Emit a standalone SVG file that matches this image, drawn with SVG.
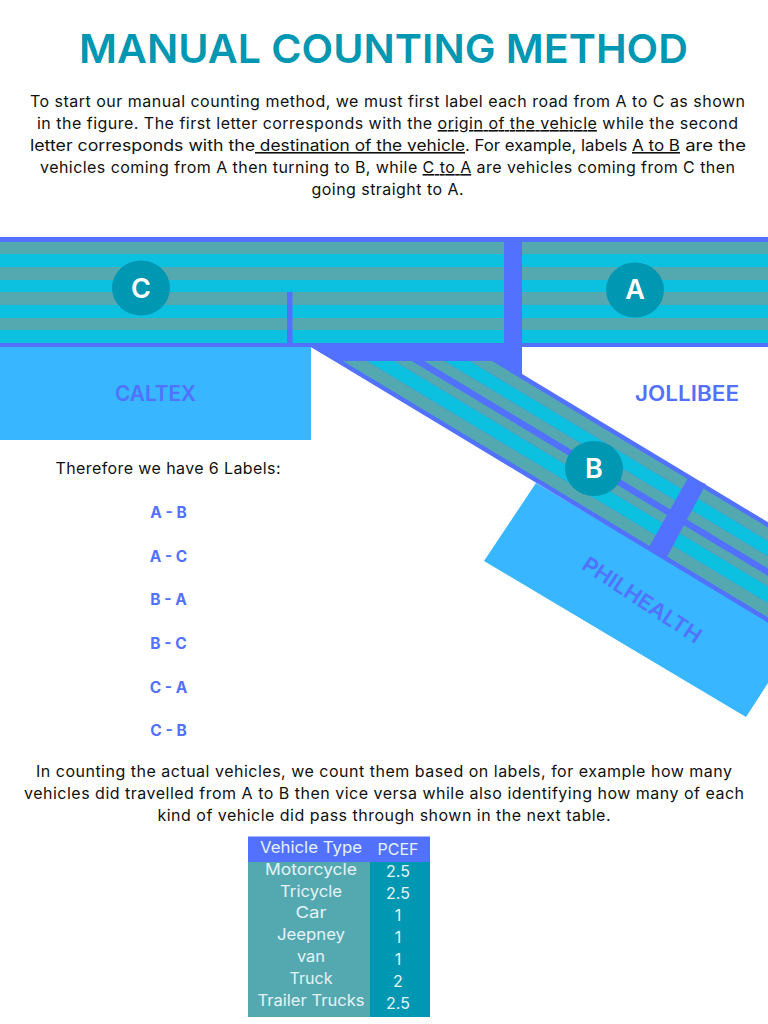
<svg xmlns="http://www.w3.org/2000/svg" width="768" height="1024" viewBox="0 0 768 1024">
<style>
text{font-family:"Inter","Noto Sans","Liberation Sans",sans-serif}
.g{fill:#54a9b1}.c{fill:#0cc0df}.b{fill:#5271ff}.t{fill:#0097b2}.s{fill:#38b6ff}
.body{font-size:16px;fill:#111;text-anchor:middle}
.pre{font-size:16px;fill:#111;white-space:pre}
.u{text-decoration:underline;text-decoration-skip-ink:none}
.lab{font-size:15.500px;font-weight:700;fill:#5271ff;text-anchor:middle}
.place{font-size:21px;font-weight:600;fill:#5271ff;text-anchor:middle}
.mark{font-size:27px;font-weight:600;fill:#fff;text-anchor:middle}
.cell{font-size:16px;fill:#e6f3f5;text-anchor:middle}
</style>
<rect width="768" height="1024" fill="#fff"/>
<text x="383.500" y="63" font-size="40" font-weight="600" fill="#0097b2" text-anchor="middle" textLength="609" lengthAdjust="spacingAndGlyphs">MANUAL COUNTING METHOD</text>
<g id="intro">
<text class="body" x="387.500" y="107" textLength="715">To start our manual counting method, we must first label each road from A to C as shown</text>
<text class="body" x="387.500" y="129" textLength="701">in the figure. The first letter corresponds with the <tspan class="u">origin of the vehicle</tspan> while the second</text>
<text class="pre" x="30" y="151" textLength="225" lengthAdjust="spacingAndGlyphs">letter corresponds with the</text>
<text class="pre u" x="255" y="151" textLength="210" lengthAdjust="spacingAndGlyphs"> destination of the vehicle</text>
<text class="pre" x="465" y="151" textLength="167" lengthAdjust="spacingAndGlyphs">. For example, labels </text>
<text class="pre u" x="632" y="151" textLength="48" lengthAdjust="spacingAndGlyphs">A to B</text>
<text class="pre" x="680" y="151" textLength="66" lengthAdjust="spacingAndGlyphs"> are the</text>
<text class="body" x="387.500" y="173" textLength="695">vehicles coming from A then turning to B, while <tspan class="u">C to A</tspan> are vehicles coming from C then</text>
<text class="body" x="387.500" y="195" textLength="152">going straight to A.</text>
</g>
<g id="caltex"><rect class="s" x="0" y="347" width="311" height="93"/><text class="place" x="155.500" y="401" textLength="81" lengthAdjust="spacingAndGlyphs">CALTEX</text></g>
<g id="philhealth"><polygon class="s" points="536,483 484,561 746,717 768,683 768,620"/><text class="place" transform="translate(638,606) rotate(33.500)" font-size="20" textLength="138" lengthAdjust="spacingAndGlyphs">PHILHEALTH</text></g>
<g id="jollibee"><text class="place" x="687" y="401" textLength="104" lengthAdjust="spacingAndGlyphs">JOLLIBEE</text></g>
<g id="road-diagonal" transform="translate(311,347) rotate(31.1)">
<rect class="b" x="0" y="-86" width="560" height="86"/>
<rect class="g" x="0" y="-17" width="560" height="12.500"/>
<rect class="c" x="0" y="-31" width="560" height="14"/>
<rect class="g" x="0" y="-40" width="560" height="9"/>
<rect class="g" x="0" y="-57" width="560" height="10.500"/>
<rect class="c" x="0" y="-70" width="560" height="13"/>
<rect class="g" x="0" y="-81.500" width="560" height="11.500"/>
</g>
<polygon class="b" points="688,478 706,484 667,557 649,547"/>
<g id="road-horizontal">
<rect class="b" x="0" y="237" width="768" height="110"/>
<rect class="g" x="0" y="242" width="768" height="12"/><rect class="c" x="0" y="254" width="768" height="13"/>
<rect class="g" x="0" y="267" width="768" height="13"/><rect class="c" x="0" y="280" width="768" height="12"/>
<rect class="g" x="0" y="292" width="768" height="13"/><rect class="c" x="0" y="305" width="768" height="13"/>
<rect class="g" x="0" y="318" width="768" height="12"/><rect class="c" x="0" y="330" width="768" height="13"/>
<rect class="b" x="287" y="292" width="5.500" height="52"/>
<polygon class="b" points="311,347 504,343 504,237 522,237 522,375 494,361 335,361"/>
<rect class="b" x="292" y="343" width="212" height="4"/>
</g>
<g id="node-c"><ellipse class="t" cx="141" cy="288" rx="29" ry="27.500"/><text class="mark" x="141" y="297.500">C</text></g>
<g id="node-a"><ellipse class="t" cx="635" cy="290" rx="29" ry="27.500"/><text class="mark" x="635" y="299">A</text></g>
<g id="node-b"><ellipse class="t" cx="594" cy="468.500" rx="29" ry="27.500"/><text class="mark" x="594" y="477.500">B</text></g>
<text class="body" x="168" y="474" textLength="225">Therefore we have 6 Labels:</text>
<g id="labels">
<text class="lab" x="168.500" y="518">A - B</text><text class="lab" x="168.500" y="562">A - C</text>
<text class="lab" x="168.500" y="605">B - A</text><text class="lab" x="168.500" y="649">B - C</text>
<text class="lab" x="168.500" y="693">C - A</text><text class="lab" x="168.500" y="736">C - B</text>
</g>
<g id="counting">
<text class="body" x="384" y="777" textLength="696">In counting the actual vehicles, we count them based on labels, for example how many</text>
<text class="body" x="384" y="799" textLength="720">vehicles did travelled from A to B then vice versa while also identifying how many of each</text>
<text class="body" x="384" y="821" textLength="453">kind of vehicle did pass through shown in the next table.</text>
</g>
<g id="table">
<rect class="g" x="248" y="862" width="122" height="155"/>
<rect class="t" x="370" y="862" width="60" height="155"/>
<rect class="b" x="248" y="836.500" width="182" height="25.500"/>
<text class="cell" x="311" y="853" textLength="102" lengthAdjust="spacingAndGlyphs">Vehicle Type</text><text class="cell" x="398" y="855">PCEF</text>
<text class="cell" x="311" y="875" textLength="92" lengthAdjust="spacingAndGlyphs">Motorcycle</text><text class="cell" x="398" y="877">2.5</text>
<text class="cell" x="311" y="897" textLength="62" lengthAdjust="spacingAndGlyphs">Tricycle</text><text class="cell" x="398" y="899">2.5</text>
<text class="cell" x="311" y="918" textLength="31" lengthAdjust="spacingAndGlyphs">Car</text><text class="cell" x="398" y="921">1</text>
<text class="cell" x="311" y="940" textLength="68" lengthAdjust="spacingAndGlyphs">Jeepney</text><text class="cell" x="398" y="943">1</text>
<text class="cell" x="311" y="962" textLength="28" lengthAdjust="spacingAndGlyphs">van</text><text class="cell" x="398" y="965">1</text>
<text class="cell" x="311" y="984" textLength="43" lengthAdjust="spacingAndGlyphs">Truck</text><text class="cell" x="398" y="987">2</text>
<text class="cell" x="311" y="1006" textLength="107" lengthAdjust="spacingAndGlyphs">Trailer Trucks</text><text class="cell" x="398" y="1009">2.5</text>
</g>
</svg>
